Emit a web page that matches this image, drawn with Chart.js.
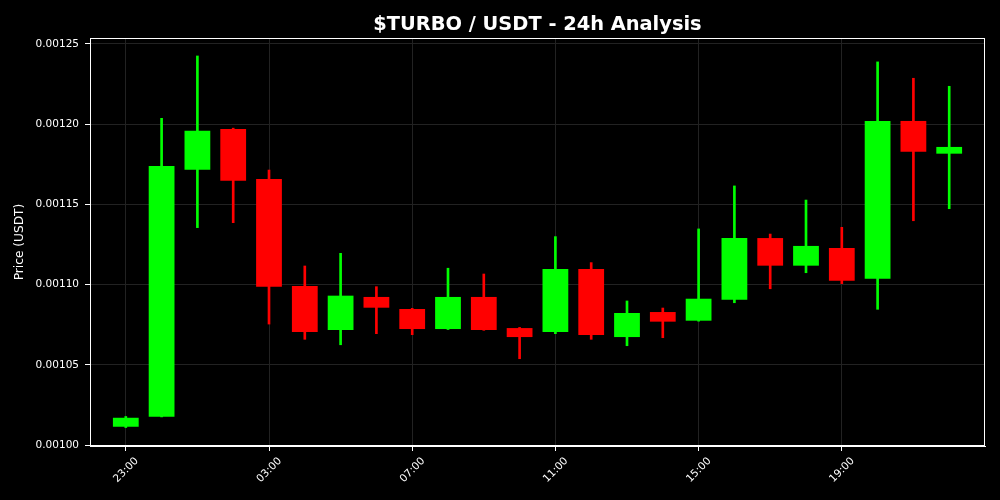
<!DOCTYPE html>
<html>
<head>
<meta charset="utf-8">
<script src="https://cdn.jsdelivr.net/npm/chart.js@4.4.1/dist/chart.umd.min.js"></script>
<style>
  html, body { margin: 0; padding: 0; background: #000; }
  #wrap { width: 1000px; height: 500px; }
</style>
</head>
<body>
<div id="wrap"><canvas id="c" width="1000" height="500"></canvas></div>
<script>
const hours = ['23:00','00:00','01:00','02:00','03:00','04:00','05:00','06:00','07:00','08:00','09:00','10:00',
               '11:00','12:00','13:00','14:00','15:00','16:00','17:00','18:00','19:00','20:00','21:00','22:00'];
const opens  = [0.0010114,0.0010176,0.0011716,0.0011970,0.0011658,0.0010991,0.0010717,0.0010923,0.0010848,0.0010723,0.0010923,0.0010729,
                0.0010704,0.0011097,0.0010673,0.0010829,0.0010775,0.0010906,0.0011290,0.0011118,0.0011228,0.0011037,0.0012020,0.0011816];
const highs  = [0.0010178,0.0012037,0.0012425,0.0011975,0.0011714,0.0011116,0.0011195,0.0010987,0.0010852,0.0011102,0.0011066,0.0010733,
                0.0011299,0.0011137,0.0010898,0.0010854,0.0011347,0.0011615,0.0011315,0.0011527,0.0011357,0.0012388,0.0012286,0.0012236];
const lows   = [0.0010109,0.0010176,0.0011355,0.0011386,0.0010754,0.0010659,0.0010625,0.0010694,0.0010688,0.0010720,0.0010715,0.0010538,
                0.0010694,0.0010659,0.0010619,0.0010669,0.0010772,0.0010887,0.0010974,0.0011074,0.0011006,0.0010846,0.0011398,0.0011473];
const closes = [0.0010170,0.0011739,0.0011959,0.0011648,0.0010987,0.0010704,0.0010931,0.0010856,0.0010723,0.0010923,0.0010717,0.0010673,
                0.0011097,0.0010686,0.0010823,0.0010769,0.0010912,0.0011290,0.0011118,0.0011241,0.0011024,0.0012020,0.0011828,0.0011858];
const xTickIdx = [0, 4, 8, 12, 16, 20];
const yTicks = [0.00100, 0.00105, 0.00110, 0.00115, 0.00120, 0.00125];

const UP = '#00ff00', DOWN = '#ff0000';
const colors = opens.map((o, i) => closes[i] >= o ? UP : DOWN);

const bodies = opens.map((o, i) => ({ x: i, y: [o, closes[i]] }));
const wicks = lows.map((l, i) => ({ x: i, y: [l, highs[i]] }));

const framePlugin = {
  id: 'frameAndTitle',
  afterDraw(chart) {
    const { ctx, chartArea: a } = chart;
    ctx.save();
    ctx.strokeStyle = '#ffffff';
    ctx.lineWidth = 1;
    ctx.strokeRect(a.left + 0.5, a.top + 0.5, a.right - a.left - 1, a.bottom - a.top - 1);
    ctx.fillStyle = '#ffffff';
    ctx.font = 'bold 19.4px "DejaVu Sans"';
    ctx.textAlign = 'center';
    ctx.textBaseline = 'alphabetic';
    ctx.fillText('$TURBO / USDT - 24h Analysis', (a.left + a.right) / 2, 30);
    ctx.restore();
  }
};
const bgPlugin = {
  id: 'bg',
  beforeDraw(chart) {
    const { ctx } = chart;
    ctx.save();
    ctx.fillStyle = '#000';
    ctx.fillRect(0, 0, chart.width, chart.height);
    ctx.restore();
  }
};

new Chart(document.getElementById('c'), {
  type: 'bar',
  data: {
    datasets: [
      { label: 'body', data: bodies, backgroundColor: colors, borderWidth: 0, grouped: false, order: 1,
        categoryPercentage: 0.8, barPercentage: 0.9 },
      { label: 'wick', data: wicks, backgroundColor: colors, borderWidth: 0, grouped: false, order: 2,
        barThickness: 2 }
    ]
  },
  options: {
    responsive: false,
    animation: false,
    layout: { padding: { top: 38, right: 15, left: 0, bottom: 0 } },
    plugins: { legend: { display: false }, tooltip: { enabled: false }, title: { display: false } },
    scales: {
      x: {
        type: 'linear',
        min: -1, max: 24,
        offset: false,
        afterBuildTicks: s => { s.ticks = xTickIdx.map(v => ({ value: v })); },
        afterFit: s => { s.height = 54; },
        ticks: {
          color: '#ffffff',
          font: { family: 'DejaVu Sans', size: 10.5 },
          minRotation: 45, maxRotation: 45,
          autoSkip: false,
          padding: 4,
          labelOffset: 11,
          callback: v => hours[v]
        },
        grid: { color: '#222222', tickColor: '#ffffff', tickLength: 5, offset: false, drawOnChartArea: true },
        border: { color: '#ffffff' }
      },
      y: {
        type: 'linear',
        min: 0.0009994, max: 0.0012537,
        afterBuildTicks: s => { s.ticks = yTicks.map(v => ({ value: v })); },
        afterFit: s => { s.width = 90; },
        ticks: {
          color: '#ffffff',
          font: { family: 'DejaVu Sans', size: 10.5 },
          padding: 6,
          callback: v => v.toFixed(5)
        },
        title: {
          display: true, text: 'Price (USDT)', color: '#ffffff',
          font: { family: 'DejaVu Sans', size: 12.2 },
          padding: { top: 13, bottom: 0 }
        },
        grid: { color: '#222222', tickColor: '#ffffff', tickLength: 5 },
        border: { color: '#ffffff' }
      }
    }
  },
  plugins: [bgPlugin, framePlugin]
});
</script>
</body>
</html>
